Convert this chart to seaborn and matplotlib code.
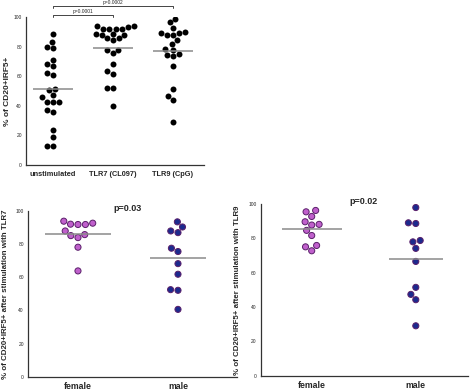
"""
Percentage of CD20+IRF5+ cells: stimulation overview and sex comparison
"""
import matplotlib
matplotlib.use("Agg")
import pandas as pd
import seaborn as sns
from matplotlib import pyplot as plt

# top panel
conditions = ["unstimulated", "TLR7 (CL097)", "TLR9 (CpG)"]
unstimulated = [88.7, 83, 80, 79, 71, 68.5, 66.7, 62, 61, 51.4, 50.5, 47.5, 45.7,
                42.8, 42.8, 42.8, 37.4, 35.6, 23.9, 19, 12.6, 12.6]
tlr7_cl097 = [94, 93, 91.7, 91.9, 92, 91.9, 93.7, 88, 88.5, 88.5, 88, 85.6, 84.2, 85.8,
              78, 77.5, 75.7, 68.5, 61.7, 63.7, 52.3, 51.8, 40]
tlr9_cpg = [98.6, 96.4, 92.8, 89.2, 88, 88, 89.2, 89.6, 84.7, 82, 78.4, 78, 75.2, 73.9,
            74.5, 66.7, 51.4, 46.8, 44.1, 28.8]
condition_medians = [51.4, 78.8, 76.8]
comparisons = [("unstimulated", "TLR7 (CL097)", "p=0.0001"),
               ("unstimulated", "TLR9 (CpG)", "p=0.0002")]

# bottom panels
sexes = ["female", "male"]
tlr7_female = [93.8, 92, 91.8, 91.8, 92.6, 87.9, 85.7, 83.9, 85.1, 78.1, 63.8]
tlr7_male = [93.4, 87.9, 86.9, 90.3, 75.5, 77.5, 68.2, 61.8, 52.5, 52.1, 40.6]
tlr7_medians = [86.1, 71.4]
tlr7_p = "p=0.03"
tlr9_female = [95.5, 96.3, 92.8, 89.7, 87.8, 88.2, 84.7, 81.7, 75.9, 75.1, 72.8]
tlr9_male = [98, 88.7, 89.1, 78.8, 78, 74.2, 66.6, 51.5, 47.4, 44.3, 29.1]
tlr9_medians = [85.4, 67.8]
tlr9_p = "p=0.02"

sex_colors = {"female": "#c060cc", "male": "#1c2a8e"}


def long_table(groups, values, key):
    rows = []
    for g, vals in zip(groups, values):
        for v in vals:
            rows.append({key: g, "value": v})
    return pd.DataFrame(rows)


def style_axis(ax, xsize):
    ax.set_ylim(0, 100)
    ax.set_yticks([0, 20, 40, 60, 80, 100])
    ax.tick_params(axis="y", labelsize=3.5, length=2, width=0.6, pad=1)
    ax.tick_params(axis="x", length=0, pad=4)
    for lab in ax.get_xticklabels():
        lab.set_fontweight("bold")
        lab.set_fontsize(xsize)
    ax.spines['right'].set_visible(False)
    ax.spines['top'].set_visible(False)
    for s in ("left", "bottom"):
        ax.spines[s].set_color("#333333")
        ax.spines[s].set_linewidth(0.9)
    ax.set_xlabel("")


sns.set_style("white")
plt.rcParams['font.family'] = ['Liberation Sans', 'DejaVu Sans']

fig = plt.figure(figsize=(4.74, 3.91), dpi=100)

# ---- top panel
ax_top = fig.add_axes([0.0549, 0.578, 0.3755, 0.3785])
df_top = long_table(conditions, [unstimulated, tlr7_cl097, tlr9_cpg], "condition")
sns.swarmplot(data=df_top, x="condition", y="value", order=conditions, color="black",
              size=4.3, ax=ax_top)
ax_top.hlines(condition_medians, [i - 0.33 for i in range(3)], [i + 0.33 for i in range(3)],
              color="#8a8a8a", lw=1.1, zorder=3)
ax_top.set_xlim(-0.45, 2.52)
style_axis(ax_top, 5.3)
ax_top.set_ylabel("% of CD20+IRF5+", fontsize=6, fontweight="bold", labelpad=2)
for k, (a, b, label) in enumerate(comparisons):
    xa, xb = conditions.index(a), conditions.index(b)
    yb = 101.4 + k * 6.0
    ax_top.plot([xa, xa, xb, xb], [yb - 1.2, yb, yb, yb - 1.2], color="#444444",
                lw=0.7, clip_on=False)
    ax_top.text((xa + xb) / 2, yb + 0.6, label, ha="center", va="bottom", fontsize=3.5,
                clip_on=False)

# ---- bottom panels
panels = [
    ([0.059, 0.0366, 0.441, 0.424], tlr7_female, tlr7_male, tlr7_medians, tlr7_p,
     "% of CD20+IRF5+ after stimulation with TLR7", (-0.5, 1.59), [0.33, 0.28]),
    ([0.55, 0.039, 0.437, 0.439], tlr9_female, tlr9_male, tlr9_medians, tlr9_p,
     "% of CD20+IRF5+ after stimulation with TLR9", (-0.49, 1.5), [0.29, 0.26]),
]
for rect, fem, mal, meds, ptxt, ylab, xlim, half in panels:
    ax = fig.add_axes(rect)
    df = long_table(sexes, [fem, mal], "sex")
    sns.swarmplot(data=df, x="sex", y="value", hue="sex", order=sexes,
                  palette=sex_colors, size=4.4, linewidth=0.7, edgecolor="#5a1f6a",
                  legend=False, ax=ax)
    ax.hlines(meds, [i - h for i, h in enumerate(half)], [i + h for i, h in enumerate(half)],
              color="#8a8a8a", lw=1.1, zorder=3)
    ax.set_xlim(*xlim)
    style_axis(ax, 6.3)
    ax.set_ylabel(ylab, fontsize=5.7, fontweight="bold", labelpad=5)
    ax.text(0.5, 99, ptxt, ha="center", va="bottom", fontsize=6.5, fontweight="bold",
            clip_on=False)

fig.savefig("out.png", dpi=100)
